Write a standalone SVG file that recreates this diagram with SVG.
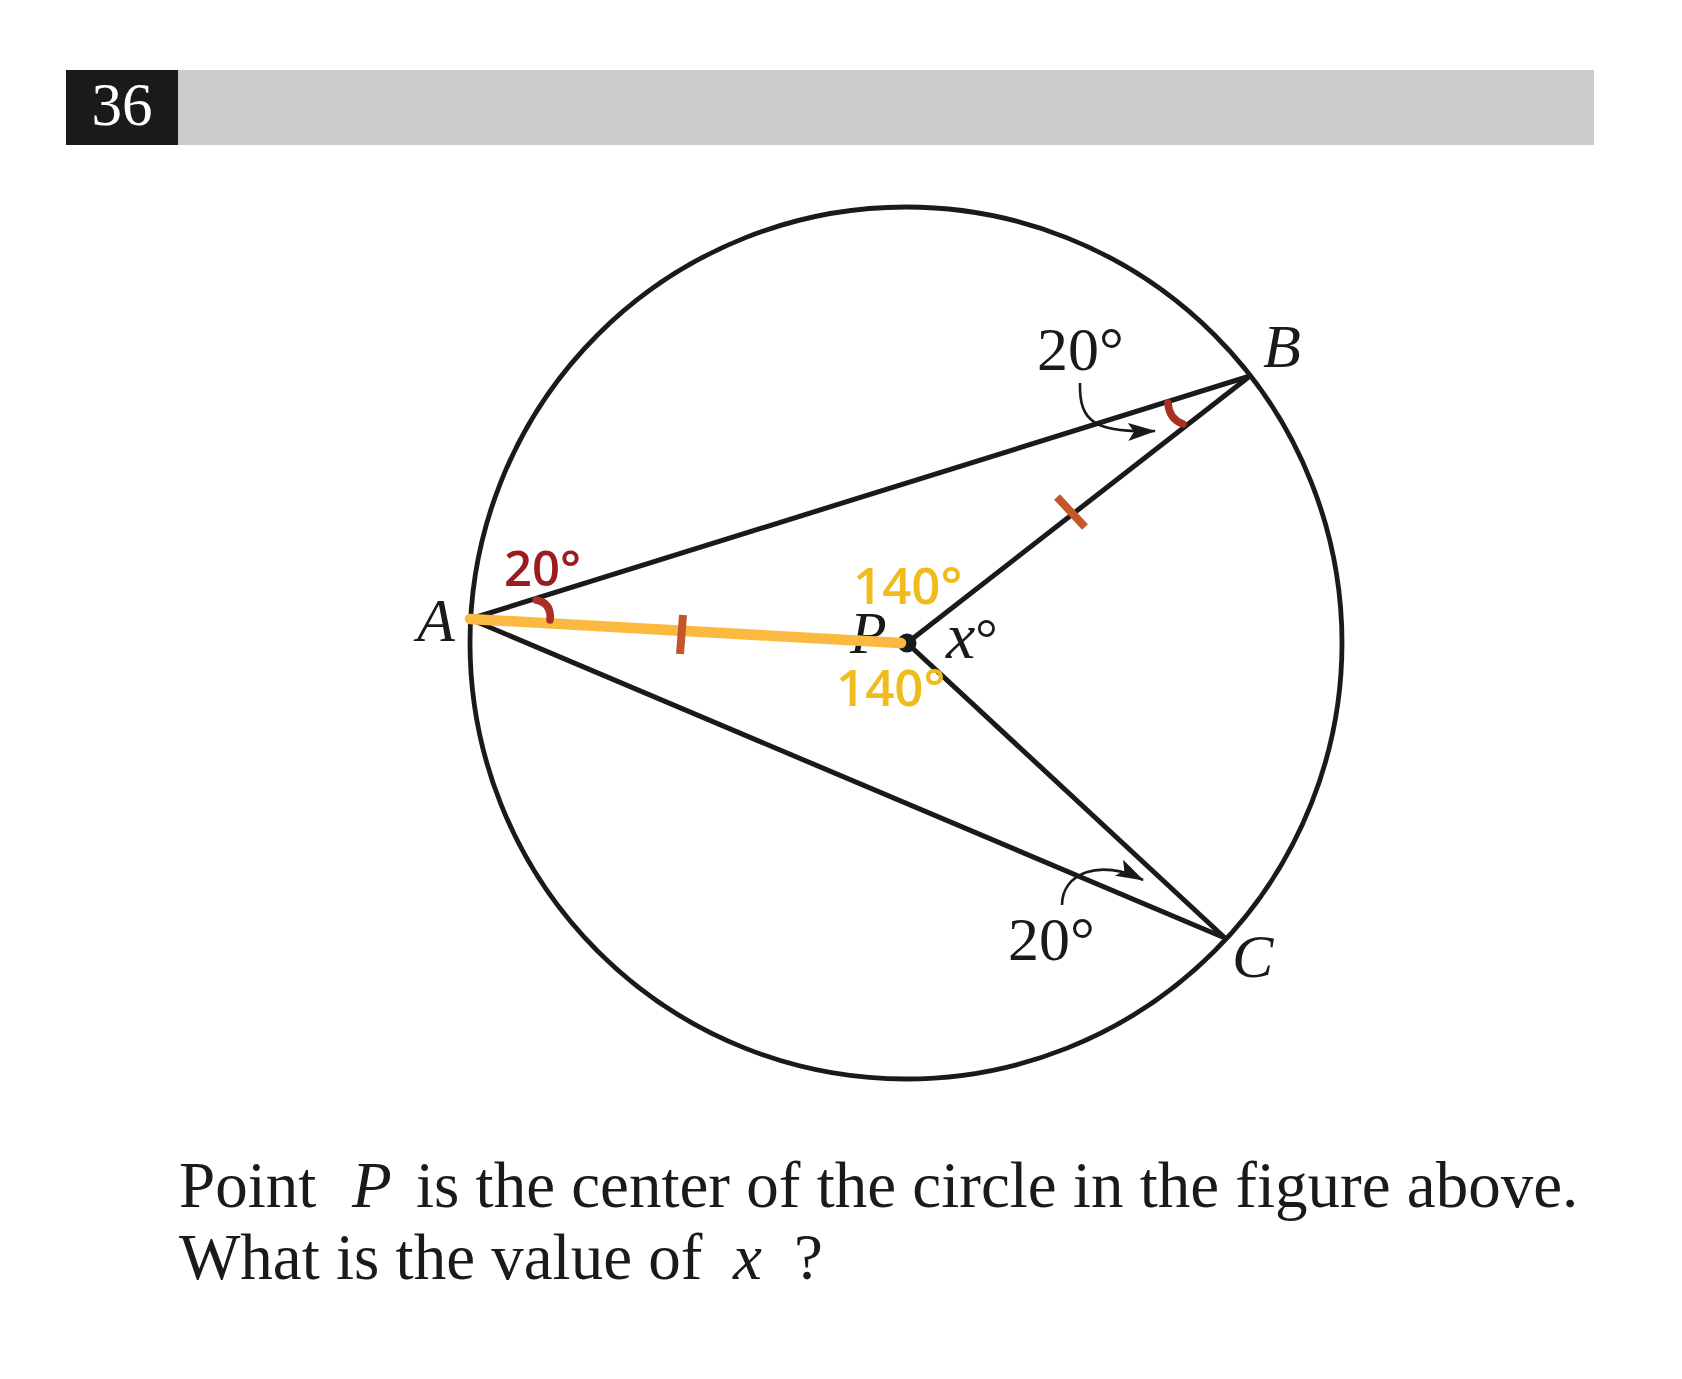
<svg xmlns="http://www.w3.org/2000/svg" width="1682" height="1379" viewBox="0 0 1682 1379">
  <style>
    .serif { font-family: "Liberation Serif", "Times New Roman", serif; fill: #1a1a1a; }
    .ital { font-style: italic; }
    .lbl { font-size: 62px; }
    .sans { font-family: "Open Sans", "Noto Sans", sans-serif; font-weight: 600; }
    .red { fill: #9b1c20; font-size: 49px; }
    .yel { fill: #f0bc1c; font-size: 51px; }
    .edge { stroke: #1a1a1a; stroke-width: 5; fill: none; stroke-linecap: round; }
    .thin { stroke: #1a1a1a; stroke-width: 2.6; fill: none; }
    .tick { stroke: #c4562a; stroke-width: 8; fill: none; }
    .arc { stroke: #a83024; stroke-width: 7.5; fill: none; stroke-linecap: round; }
  </style>
  <defs>
    <marker id="arrow" viewBox="0 0 28 18" refX="27" refY="9" markerWidth="28" markerHeight="18" markerUnits="userSpaceOnUse" orient="auto">
      <path d="M0,0 L28,9 L0,18 L6,9 z" fill="#1a1a1a"/>
    </marker>
  </defs>
  <rect width="1682" height="1379" fill="#ffffff"/>

  <g id="header">
    <rect x="178" y="70" width="1416" height="75" fill="#cbcccd"/>
    <rect x="66" y="70" width="112" height="75" fill="#1a1a1a"/>
    <text x="122" y="125" text-anchor="middle" font-family="Liberation Serif, serif" font-size="61" fill="#ffffff">36</text>
  </g>

  <g id="circle">
    <circle cx="906" cy="643" r="436" fill="none" stroke="#1a1a1a" stroke-width="4.8"/>
  </g>

  <g id="connectors">
    <line class="edge" x1="470" y1="619" x2="1250" y2="376"/>
    <line class="edge" x1="470" y1="619" x2="1225" y2="938"/>
    <line class="edge" x1="907" y1="643" x2="1250" y2="376"/>
    <line class="edge" x1="907" y1="643" x2="1225" y2="938"/>
    <path class="thin" d="M1080,383 C1079,422 1095,433 1155,431" marker-end="url(#arrow)"/>
    <path class="thin" d="M1062,905 C1062,873 1100,858 1143,880" marker-end="url(#arrow)"/>
  </g>

  <g id="node-P">
    <text class="serif ital" x="850" y="653" font-size="60">P</text>
    <circle cx="907" cy="643" r="9.5" fill="#1a1a1a"/>
  </g>

  <g id="radius-AP">
    <line x1="470" y1="619" x2="901" y2="643" stroke="#fbb940" stroke-width="10.5" stroke-linecap="round"/>
    <line class="tick" x1="683" y1="615" x2="680" y2="654"/>
  </g>

  <g id="marks">
    <line class="tick" x1="1057" y1="497" x2="1085" y2="527"/>
    <path class="arc" d="M536,600 Q552,603 550,620"/>
    <path class="arc" d="M1168,403 Q1169,419 1183,424"/>
  </g>

  <g id="node-A">
    <text class="serif ital lbl" x="417" y="641">A</text>
  </g>
  <g id="node-B">
    <text class="serif ital lbl" x="1263" y="367">B</text>
  </g>
  <g id="node-C">
    <text class="serif ital lbl" x="1232" y="977">C</text>
  </g>

  <g id="angle-labels">
    <text class="serif" x="1037" y="370" font-size="62">20°</text>
    <text class="serif" x="1008" y="960" font-size="62">20°</text>
    <text class="serif" x="946" y="658" font-size="66"><tspan font-style="italic">x</tspan><tspan font-size="56">°</tspan></text>
    <text class="sans red" x="504" y="586">20°</text>
    <text class="sans yel" x="853" y="604">140°</text>
    <text class="sans yel" x="836" y="706">140°</text>
  </g>

  <g id="question">
    <text class="serif" y="1207" font-size="65"><tspan x="179">Point</tspan><tspan x="352" font-style="italic">P</tspan><tspan x="416">is the center of the circle in the figure above.</tspan></text>
    <text class="serif" y="1279" font-size="65"><tspan x="179">What is the value of</tspan><tspan x="733" font-style="italic">x</tspan><tspan x="794">?</tspan></text>
  </g>
</svg>
